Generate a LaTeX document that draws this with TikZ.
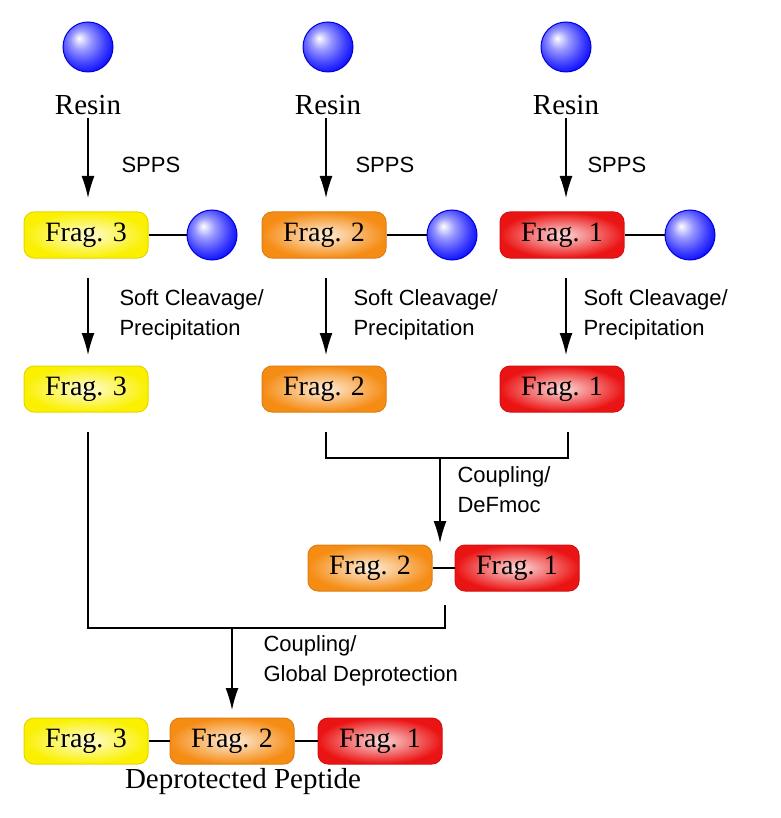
\documentclass[tikz,border=0pt]{standalone}
\usepackage{fontspec}
\usetikzlibrary{arrows.meta}
\setmainfont{Liberation Serif}
\newfontfamily\lsans{Liberation Sans}
\pgfdeclareradialshading{sphr}{\pgfpoint{-9bp}{9bp}}{color(0bp)=(white); color(10bp)=(white!60!blue); color(22bp)=(white!25!blue); color(32bp)=(blue); color(50bp)=(blue)}
\begin{document}
\begin{tikzpicture}[x=1pt,y=-1pt,
 frag/.style={rounded corners=10pt,minimum width=124pt,minimum height=46pt,draw=#1!90!black,line width=1pt,inner color=#1!15!white,outer color=#1,font=\fontsize{28}{28}\selectfont},
 ball/.style={circle,minimum size=50pt,shading=sphr,draw=blue!85!black,line width=1pt},
 resin/.style={font=\fontsize{29}{29}\selectfont},
 lab/.style={font=\lsans\fontsize{22}{30}\selectfont,align=left,anchor=west},
 arr/.style={-{Latex[length=22pt,width=13pt]},line width=1.4pt},
 ln/.style={line width=1.4pt}]
\useasboundingbox (0,0) rectangle (780,818);
\definecolor{fy}{RGB}{250,240,0}
\definecolor{fo}{RGB}{245,140,20}
\definecolor{fr}{RGB}{235,20,20}
% top
\foreach \n/\x in {a/88,b/328,c/566}{
 \node[ball] (s\n) at (\x,47) {};
 \node[resin] (r\n) at (\x,105) {Resin};
}
\node[frag=fy] (f3a) at (86,235) {Frag. 3};
\node[frag=fo] (f2a) at (324,235) {Frag. 2};
\node[frag=fr] (f1a) at (562,235) {Frag. 1};
\node[ball] (b3) at (212,235) {};
\node[ball] (b2) at (452,235) {};
\node[ball] (b1) at (690,235) {};
\draw[ln] (f3a) -- (b3); \draw[ln] (f2a) -- (b2); \draw[ln] (f1a) -- (b1);
\draw[arr] (ra.south-|88,0) -- (88,198);
\draw[arr] (rb.south-|326,0) -- (326,198);
\draw[arr] (rc.south-|566,0) -- (566,198);
\node[lab] (l1) at (118,165) {SPPS};
\node[lab] (l2) at (352,165) {SPPS};
\node[lab] (l3) at (584,165) {SPPS};
\node[frag=fy] (f3b) at (86,389) {Frag. 3};
\node[frag=fo] (f2b) at (324,389) {Frag. 2};
\node[frag=fr] (f1b) at (562,389) {Frag. 1};
\draw[arr] (88,278) -- (88,355);
\draw[arr] (326,278) -- (326,355);
\draw[arr] (566,278) -- (566,355);
\node[lab] (c1) at (116,315) {Soft Cleavage/\\Precipitation};
\node[lab] (c2) at (350,315) {Soft Cleavage/\\Precipitation};
\node[lab] (c3) at (580,315) {Soft Cleavage/\\Precipitation};
% coupling 1
\coordinate (m1) at (440,458);
\draw[ln] (326,432) |- (m1) -| (568,432);
\node[frag=fo] (f2c) at (370,568) {Frag. 2};
\node[frag=fr] (f1c) at (517,568) {Frag. 1};
\draw[ln] (f2c) -- (f1c);
\draw[arr] (m1) -- (440,543);
\node[lab] (d1) at (454,490) {Coupling/\\DeFmoc};
% coupling 2
\coordinate (m2) at (232,628);
\draw[ln] (88,432) |- (m2) -| (445,605);
\draw[arr] (m2) -- (232,710);
\node[lab] (d2) at (260,661) {Coupling/\\Global Deprotection};
\node[frag=fy] (f3d) at (86,741) {Frag. 3};
\node[frag=fo] (f2d) at (232,741) {Frag. 2};
\node[frag=fr] (f1d) at (380,741) {Frag. 1};
\draw[ln] (f3d) -- (f2d); \draw[ln] (f2d) -- (f1d);
\node[resin] (dp) at (243,782) {Deprotected Peptide};
\end{tikzpicture}
\end{document}
